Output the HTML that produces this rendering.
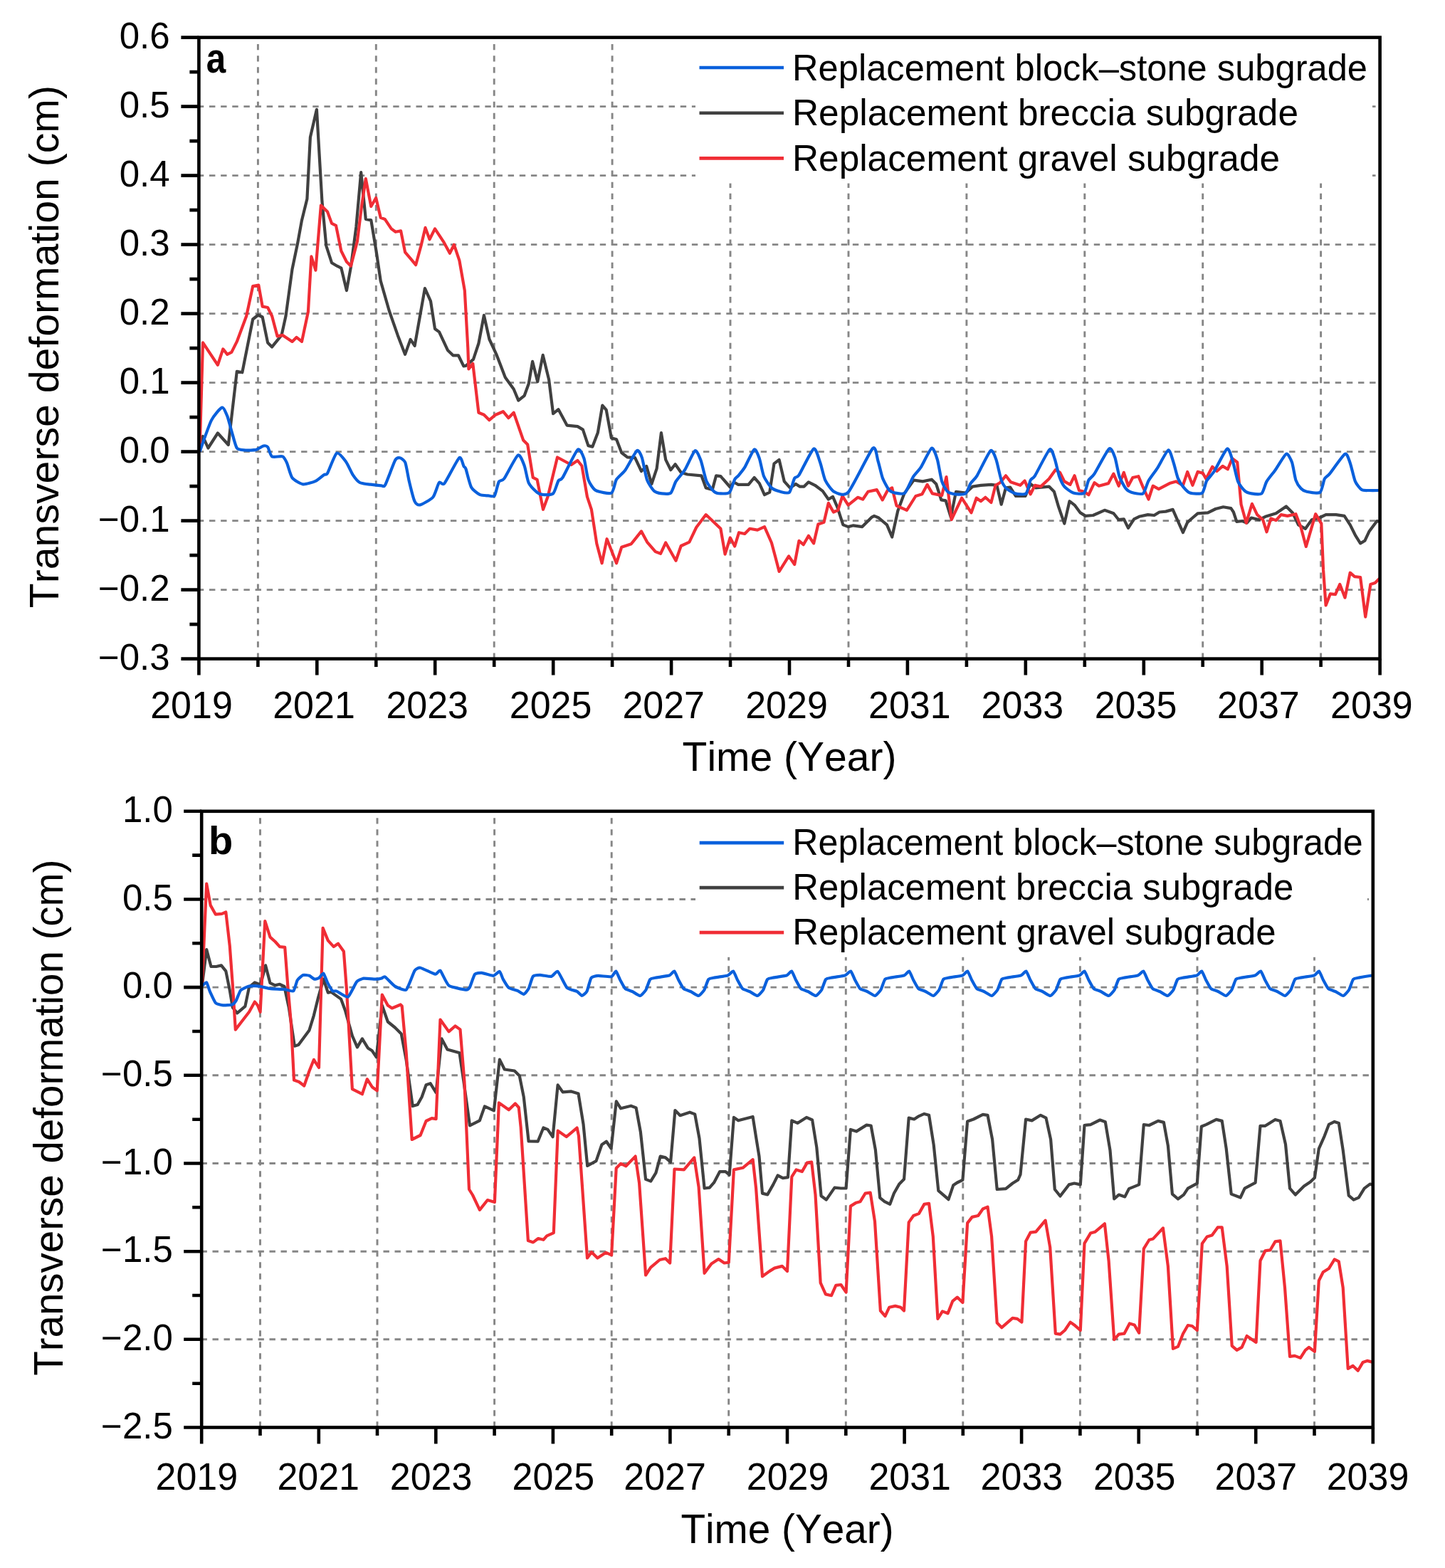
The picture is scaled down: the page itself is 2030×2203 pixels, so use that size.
<!DOCTYPE html>
<html><head><meta charset="utf-8"><style>
html,body{margin:0;padding:0;background:#fff;}
body{width:2030px;height:2203px;overflow:hidden;}
svg{display:block;font-family:"Liberation Sans", Arial, sans-serif;font-kerning:none;}
</style></head><body>
<svg width="2030" height="2203" viewBox="0 0 2030 2203">
<rect width="2030" height="2203" fill="#fff"/>
<path d="M279.4,149.6H1938.6M279.4,246.6H1938.6M279.4,343.6H1938.6M279.4,440.6H1938.6M279.4,537.6H1938.6M279.4,634.6H1938.6M279.4,731.6H1938.6M279.4,828.6H1938.6" stroke="#868686" stroke-width="2.9" stroke-dasharray="8.4 7.74" stroke-dashoffset="1.54" fill="none"/>
<path d="M362.4,52.6V925.6M528.3,52.6V925.6M694.2,52.6V925.6M860.1,52.6V925.6M1026.0,52.6V925.6M1192.0,52.6V925.6M1357.9,52.6V925.6M1523.8,52.6V925.6M1689.7,52.6V925.6M1855.6,52.6V925.6" stroke="#868686" stroke-width="2.9" stroke-dasharray="8.3 7.84" stroke-dashoffset="6.74" fill="none"/>
<rect x="977" y="54.6" width="951" height="203" fill="#fff"/>
<path d="M280.5,634.6 285.0,613.0 292.4,629.5 305.9,608.5 320.8,625.0 332.8,521.8 340.3,523.3 355.2,448.5 362.7,442.5 368.7,445.5 376.1,481.4 382.1,487.4 395.6,470.9 401.5,444.0 410.5,378.2 418.0,342.3 424.0,309.4 431.4,279.5 435.9,192.7 444.9,153.8 452.4,282.5 458.3,345.3 466.0,369.2 473.5,373.7 479.4,376.7 486.9,408.1 492.9,375.2 500.4,318.4 507.2,242.1 513.8,307.9 521.3,309.4 528.8,354.3 534.7,394.6 546.7,436.5 558.7,470.9 569.1,497.9 576.6,476.9 582.6,485.9 596.9,405.1 605.0,423.1 611.0,462.0 617.0,466.4 628.9,491.9 636.4,499.3 643.9,499.3 651.3,514.3 654.5,513.9 665.0,504.9 672.4,482.5 679.9,443.0 687.4,476.5 697.8,498.9 709.8,530.3 721.7,546.8 728.3,562.6 736.7,555.8 742.7,539.3 748.1,507.9 755.2,536.3 762.7,498.9 771.1,533.3 777.1,581.2 784.5,575.2 796.5,597.6 811.4,599.1 818.9,603.6 826.4,626.1 832.4,627.6 839.8,608.1 846.3,569.6 851.7,575.9 858.9,615.4 866.0,617.2 873.2,636.0 881.3,642.3 892.1,643.2 901.0,662.0 908.2,654.9 915.4,680.0 922.6,658.4 928.9,608.2 935.2,645.9 942.3,660.2 948.6,652.2 956.7,663.8 965.7,666.5 985.4,668.3 991.7,685.4 1000.7,688.1 1006.1,668.3 1012.4,669.2 1025.8,684.5 1031.0,677.5 1037.2,680.9 1051.5,680.9 1059.6,671.0 1066.8,679.1 1074.0,695.2 1081.2,691.7 1087.5,651.3 1094.6,645.9 1101.8,676.4 1109.9,685.4 1118.0,680.0 1123.4,683.6 1129.6,683.6 1135.9,677.3 1144.9,681.8 1155.7,689.9 1163.8,701.5 1170.0,697.9 1176.3,712.3 1184.4,737.4 1191.6,740.1 1198.8,738.3 1211.3,740.1 1224.8,726.6 1228.1,724.9 1234.4,727.5 1246.0,737.4 1253.2,754.5 1261.3,717.7 1270.3,693.4 1283.7,674.6 1296.3,676.4 1308.9,673.7 1315.2,680.0 1322.3,702.4 1328.6,703.3 1335.8,726.6 1343.0,690.8 1356.4,692.6 1366.3,683.6 1378.0,681.8 1392.4,680.9 1400.4,681.8 1406.7,708.7 1413.0,685.4 1419.0,684.5 1427.1,697.0 1440.5,697.0 1447.7,680.0 1454.9,685.4 1473.7,683.6 1480.9,690.8 1487.2,712.3 1495.3,735.6 1502.5,704.2 1509.6,709.6 1517.7,720.4 1524.9,724.9 1535.7,724.0 1551.8,716.8 1564.4,721.3 1571.6,730.2 1578.8,729.3 1585.0,741.9 1593.1,729.3 1600.3,725.8 1612.6,723.1 1621.5,724.0 1628.7,719.5 1637.7,718.6 1647.6,715.9 1653.9,730.2 1661.9,748.2 1668.2,733.8 1675.4,727.5 1682.6,721.3 1696.9,720.4 1707.7,715.0 1718.5,712.3 1729.3,714.1 1732.9,719.5 1737.3,732.9 1745.4,732.0 1751.7,734.7 1758.0,727.5 1768.8,730.2 1777.7,725.8 1792.6,721.3 1806.9,711.4 1815.9,720.4 1824.0,737.4 1833.9,742.8 1842.8,730.2 1853.6,727.5 1862.6,723.1 1876.9,723.1 1888.6,724.9 1896.7,737.4 1903.9,751.8 1911.1,763.4 1917.3,759.8 1923.6,746.4 1934.4,732.0 1938.0,732.9" stroke="#404040" stroke-width="4.2" fill="none" stroke-linejoin="round"/>
<path d="M280.5,634.6 285.0,481.4 305.9,512.8 313.3,490.4 319.3,497.9 325.3,494.9 332.8,479.9 346.2,444.0 355.2,402.1 363.3,400.6 368.7,430.6 376.1,432.0 382.1,444.0 389.6,472.4 397.1,470.9 410.5,479.9 416.5,473.9 424.0,479.9 432.9,438.0 437.4,360.3 443.4,379.7 450.9,288.5 460.0,297.4 466.0,313.9 472.0,316.9 479.4,352.8 486.9,367.7 492.9,373.7 501.9,339.3 507.8,291.4 513.8,251.1 521.3,290.0 528.2,278.0 534.7,305.8 540.7,307.9 549.7,321.4 555.7,325.8 563.1,324.4 569.1,354.3 576.6,363.2 584.1,372.2 591.5,345.3 597.5,319.9 603.5,336.3 611.0,321.4 622.9,339.3 631.9,355.8 637.9,343.8 645.4,366.2 652.8,408.1 657.3,488.9 658.4,518.4 664.3,510.9 672.4,579.7 679.9,582.7 687.4,590.2 696.3,582.7 706.8,578.2 714.3,587.2 721.7,579.7 735.2,618.6 741.2,624.6 748.7,670.9 754.6,673.9 763.0,715.8 769.6,697.8 783.0,642.5 802.5,653.0 811.4,647.0 817.4,654.5 824.9,697.8 830.9,715.8 838.3,763.7 845.6,791.3 852.6,757.2 866.0,791.3 873.2,768.8 886.7,764.3 901.0,746.4 909.1,761.6 920.8,775.1 928.0,777.8 935.2,762.5 949.5,787.7 956.7,767.0 968.4,761.6 978.2,741.0 991.7,723.1 1012.4,742.8 1018.6,778.7 1025.8,755.4 1032.2,767.5 1038.1,748.2 1046.2,750.0 1053.3,742.8 1064.1,744.6 1074.0,740.1 1083.9,762.5 1089.2,782.3 1094.6,802.9 1108.1,781.4 1116.2,793.0 1122.5,759.8 1128.7,765.2 1135.9,752.7 1143.1,763.4 1149.4,736.5 1157.5,733.8 1163.8,706.9 1170.9,719.5 1177.2,716.8 1183.5,697.0 1191.6,709.6 1205.0,698.8 1212.2,701.5 1219.4,690.8 1231.7,688.1 1239.7,702.4 1246.9,689.0 1253.2,685.4 1259.5,710.5 1273.9,716.8 1286.4,697.0 1295.4,694.3 1302.6,680.9 1309.8,693.4 1323.2,696.1 1329.5,670.1 1336.7,730.2 1351.1,699.7 1364.5,720.4 1371.7,699.7 1378.0,704.2 1384.3,698.8 1392.4,706.0 1398.6,681.8 1404.9,678.2 1413.0,668.3 1419.9,677.3 1433.3,681.8 1439.6,675.5 1447.7,694.3 1454.0,681.8 1462.1,683.6 1473.7,672.8 1482.7,660.2 1489.0,663.8 1495.3,676.4 1503.4,680.9 1509.6,668.3 1515.9,689.0 1523.1,690.8 1529.4,695.2 1537.5,678.2 1543.8,682.7 1557.2,679.1 1564.4,665.6 1571.6,682.7 1578.8,663.8 1585.0,682.7 1591.3,671.0 1599.4,669.2 1605.4,683.6 1613.5,701.5 1619.7,682.7 1627.8,687.2 1643.1,679.1 1652.1,676.4 1661.9,681.8 1668.2,662.9 1675.4,681.8 1682.6,662.9 1689.8,664.7 1694.3,672.8 1703.2,655.8 1709.5,662.0 1717.6,654.9 1724.8,659.3 1731.1,644.1 1738.2,649.5 1743.6,708.7 1750.8,734.7 1758.9,707.8 1766.1,723.1 1774.1,730.2 1779.5,747.3 1785.4,728.4 1792.6,731.1 1799.7,723.1 1808.7,724.9 1820.4,722.2 1827.6,741.0 1834.8,767.9 1841.9,743.7 1848.2,722.2 1856.3,735.6 1859.0,800.2 1862.6,850.5 1868.9,834.3 1876.0,835.2 1882.3,820.9 1889.5,839.7 1896.7,804.7 1903.0,810.1 1911.1,811.0 1918.2,866.6 1925.4,820.9 1931.7,819.1 1938.0,812.8" stroke="#f02d35" stroke-width="4.2" fill="none" stroke-linejoin="round"/>
<path d="M280.5,634.6C282.3,629.8 293.5,597.3 296.9,590.6C300.3,583.9 309.5,573.2 311.9,572.6C314.3,572.0 317.8,581.0 319.3,584.6C320.8,588.2 323.8,600.6 325.3,605.5C326.8,610.4 330.7,626.6 332.8,629.5C334.9,632.4 341.8,632.2 344.7,632.5C347.6,632.8 356.9,632.5 359.7,631.9C362.5,631.2 368.3,626.9 370.1,626.5C371.9,626.1 374.8,626.4 376.1,628.0C377.4,629.6 379.8,639.9 382.1,641.4C384.4,642.9 394.8,640.4 397.1,641.4C399.4,642.4 401.5,647.2 403.0,650.4C404.5,653.6 408.1,668.1 410.5,671.3C412.9,674.5 421.9,679.8 425.5,680.3C429.1,680.8 440.2,677.3 443.4,675.8C446.6,674.3 453.6,668.1 455.4,666.9C457.2,665.7 458.1,668.3 460.0,665.0C461.9,661.7 470.2,638.6 473.0,636.8C475.8,635.0 483.5,645.4 486.0,648.7C488.5,652.0 493.6,663.9 495.7,667.1C497.8,670.3 502.8,676.5 505.5,678.0C508.2,679.5 517.3,680.2 520.6,680.7C523.9,681.2 533.6,682.2 535.8,682.3C538.0,682.4 539.1,685.1 541.2,681.2C543.3,677.3 553.0,650.7 555.2,646.6C557.4,642.5 560.2,643.0 561.7,643.3C563.2,643.6 567.9,646.3 569.3,649.8C570.7,653.3 573.3,669.9 574.7,675.8C576.1,681.7 580.7,700.3 582.3,703.9C583.9,707.5 587.1,710.0 589.9,709.4C592.7,708.8 605.4,701.9 608.3,698.5C611.2,695.1 615.1,680.1 616.9,678.0C618.7,675.9 621.4,682.8 624.5,679.0C627.6,675.2 642.2,645.9 645.1,643.3C648.0,640.7 650.6,653.5 651.6,655.2C652.6,656.9 653.4,655.8 654.5,659.0C655.6,662.2 659.9,680.5 662.0,684.4C664.1,688.3 671.3,693.6 673.9,694.9C676.5,696.2 683.6,696.2 685.9,696.4C688.2,696.6 693.2,698.5 694.8,696.4C696.4,694.3 699.3,679.5 700.8,676.9C702.3,674.3 705.4,676.5 708.3,672.4C711.2,668.3 724.6,641.4 727.7,639.5C730.8,637.6 735.1,650.3 736.7,654.5C738.3,658.7 740.8,674.3 742.7,678.4C744.6,682.5 752.5,690.1 754.6,691.9C756.7,693.7 759.7,694.7 762.1,694.9C764.5,695.1 774.7,695.5 777.1,693.4C779.5,691.3 783.0,677.8 784.5,675.4C786.0,673.0 787.6,675.6 790.5,670.9C793.4,666.2 808.2,634.9 811.4,632.0C814.6,629.1 818.8,639.5 820.4,644.0C822.0,648.5 824.6,669.0 826.4,673.9C828.2,678.8 833.3,686.9 836.8,688.9C840.3,690.9 855.7,694.2 858.9,692.6C862.1,691.0 863.9,677.2 866.0,673.7C868.1,670.2 875.5,664.6 878.6,660.2C881.7,655.8 892.3,635.1 894.8,633.3C897.3,631.5 900.4,638.7 901.9,643.2C903.4,647.7 907.2,669.5 909.1,674.6C911.0,679.7 916.8,687.9 919.0,689.9C921.2,691.9 927.3,693.1 929.8,693.4C932.3,693.7 940.2,694.4 942.3,692.6C944.4,690.8 947.4,679.9 949.5,676.4C951.6,672.9 959.2,664.9 962.1,660.2C965.0,655.5 974.0,634.8 976.4,633.3C978.8,631.8 982.7,642.1 984.5,646.8C986.3,651.5 990.6,671.6 992.6,676.4C994.6,681.2 1001.3,689.0 1003.4,690.8C1005.5,692.6 1010.1,693.3 1012.4,693.4C1014.7,693.5 1022.8,693.8 1024.9,691.7C1027.0,689.6 1030.8,676.2 1032.1,673.7C1033.4,671.2 1035.7,670.1 1037.2,668.3C1038.7,666.5 1043.8,660.7 1046.2,656.7C1048.6,652.7 1057.4,632.9 1059.6,631.5C1061.8,630.1 1065.3,640.0 1066.8,644.1C1068.3,648.2 1071.2,664.7 1073.1,669.2C1075.0,673.7 1081.4,683.1 1083.9,685.4C1086.4,687.7 1093.7,690.1 1096.4,690.8C1099.1,691.5 1106.9,693.7 1109.0,691.7C1111.1,689.7 1114.7,674.5 1116.2,671.9C1117.7,669.3 1119.6,671.9 1122.5,667.4C1125.4,662.9 1139.9,632.5 1143.1,630.6C1146.3,628.7 1150.3,644.7 1152.1,649.5C1153.9,654.3 1157.2,670.1 1159.3,674.6C1161.4,679.1 1168.3,688.9 1171.8,690.8C1175.3,692.7 1185.7,698.3 1191.6,691.7C1197.5,685.1 1221.5,634.8 1226.0,630.0C1230.5,625.2 1232.0,643.3 1233.5,647.7C1235.0,652.1 1238.1,666.6 1239.7,671.0C1241.3,675.4 1246.8,685.8 1248.7,688.1C1250.7,690.4 1255.3,692.1 1257.7,692.6C1260.1,693.1 1268.5,695.0 1271.2,692.6C1273.9,690.2 1280.4,674.0 1282.8,670.1C1285.2,666.2 1290.8,661.1 1293.6,656.7C1296.4,652.3 1306.4,630.9 1308.9,629.7C1311.4,628.5 1315.4,640.8 1316.9,645.9C1318.4,651.0 1321.6,671.5 1323.2,676.4C1324.8,681.3 1329.3,688.9 1331.3,690.8C1333.3,692.7 1339.4,694.0 1342.1,694.3C1344.8,694.6 1354.1,695.0 1356.4,693.4C1358.7,691.8 1361.8,681.8 1363.6,679.1C1365.4,676.4 1369.6,673.3 1372.6,668.3C1375.6,663.3 1388.6,635.7 1391.5,633.3C1394.4,630.9 1397.9,641.4 1399.5,645.9C1401.1,650.4 1405.1,670.2 1406.7,674.6C1408.3,679.0 1411.8,684.3 1413.9,686.3C1416.0,688.3 1423.2,692.6 1426.2,693.4C1429.2,694.2 1439.1,695.4 1441.4,693.4C1443.7,691.4 1446.3,677.3 1447.7,674.6C1449.1,671.9 1451.1,673.0 1454.0,668.3C1456.9,663.6 1471.6,634.0 1474.6,631.5C1477.6,629.0 1480.3,640.9 1481.8,645.0C1483.3,649.1 1486.6,665.0 1488.1,669.2C1489.6,673.4 1493.2,681.1 1495.3,683.6C1497.4,686.1 1504.8,691.6 1507.8,692.6C1510.8,693.6 1520.8,694.6 1523.1,692.6C1525.4,690.6 1527.8,677.5 1529.4,674.6C1531.0,671.7 1534.4,670.4 1537.5,665.6C1540.6,660.8 1555.0,633.1 1558.1,630.6C1561.2,628.1 1564.6,638.1 1566.2,642.3C1567.8,646.5 1570.8,664.4 1572.5,669.2C1574.2,674.0 1579.7,683.9 1581.5,686.3C1583.3,688.7 1586.9,690.9 1589.5,691.7C1592.1,692.5 1603.1,695.2 1605.7,693.4C1608.3,691.6 1611.3,679.4 1613.5,675.5C1615.7,671.6 1623.0,662.3 1626.0,657.6C1629.0,652.9 1638.9,633.3 1641.3,632.4C1643.7,631.5 1647.0,645.2 1648.5,649.5C1650.0,653.8 1653.3,668.2 1654.8,671.9C1656.3,675.6 1660.1,681.4 1661.9,683.6C1663.7,685.8 1668.9,691.6 1671.8,692.6C1674.7,693.6 1686.4,694.5 1688.9,692.6C1691.4,690.7 1693.4,678.8 1695.2,675.5C1697.0,672.2 1702.8,666.9 1705.9,662.0C1709.0,657.1 1721.1,632.1 1723.9,630.6C1726.7,629.1 1730.4,643.6 1732.0,648.6C1733.6,653.6 1737.3,671.9 1739.1,676.4C1740.9,680.9 1747.0,688.1 1749.0,689.9C1751.0,691.7 1755.5,693.0 1758.0,693.4C1760.5,693.8 1770.1,695.2 1772.4,693.4C1774.7,691.6 1777.4,680.0 1779.5,676.4C1781.6,672.8 1788.7,664.4 1791.7,660.2C1794.7,656.0 1804.4,639.0 1806.9,637.8C1809.4,636.6 1813.5,645.5 1815.0,649.5C1816.5,653.5 1819.0,670.6 1820.4,674.6C1821.8,678.6 1825.9,684.5 1827.6,686.3C1829.3,688.1 1832.8,690.2 1835.7,690.8C1838.6,691.4 1851.8,693.7 1854.5,691.7C1857.2,689.8 1859.3,675.6 1860.8,672.8C1862.3,670.0 1864.9,669.4 1868.0,665.6C1871.1,661.8 1886.4,639.4 1889.5,637.8C1892.6,636.2 1895.1,646.2 1896.7,650.4C1898.3,654.6 1902.1,672.3 1903.9,676.4C1905.7,680.5 1910.8,686.7 1912.9,688.1C1915.0,689.5 1920.9,688.9 1923.6,689.0C1926.3,689.1 1936.4,689.0 1938.0,689.0" stroke="#0a60dc" stroke-width="4.2" fill="none" stroke-linejoin="round"/>
<line x1="982.5" y1="95.0" x2="1101" y2="95.0" stroke="#0a60dc" stroke-width="4.6"/>
<text x="1113" y="112.6" font-size="52" textLength="808" lengthAdjust="spacingAndGlyphs">Replacement block–stone subgrade</text>
<line x1="982.5" y1="158.7" x2="1101" y2="158.7" stroke="#404040" stroke-width="4.6"/>
<text x="1113" y="176.3" font-size="52" textLength="711" lengthAdjust="spacingAndGlyphs">Replacement breccia subgrade</text>
<line x1="982.5" y1="222.4" x2="1101" y2="222.4" stroke="#f02d35" stroke-width="4.6"/>
<text x="1113" y="240.0" font-size="52" textLength="685" lengthAdjust="spacingAndGlyphs">Replacement gravel subgrade</text>
<rect x="279.4" y="52.6" width="1659.2" height="873.0" fill="none" stroke="#000" stroke-width="4.6"/>
<path d="M254.4,52.6H279.4M266.4,101.1H279.4M254.4,149.6H279.4M266.4,198.1H279.4M254.4,246.6H279.4M266.4,295.1H279.4M254.4,343.6H279.4M266.4,392.1H279.4M254.4,440.6H279.4M266.4,489.1H279.4M254.4,537.6H279.4M266.4,586.1H279.4M254.4,634.6H279.4M266.4,683.1H279.4M254.4,731.6H279.4M266.4,780.1H279.4M254.4,828.6H279.4M266.4,877.1H279.4M254.4,925.6H279.4M279.4,925.6V948.6M362.4,925.6V937.1M445.3,925.6V948.6M528.3,925.6V937.1M611.2,925.6V948.6M694.2,925.6V937.1M777.2,925.6V948.6M860.1,925.6V937.1M943.1,925.6V948.6M1026.0,925.6V937.1M1109.0,925.6V948.6M1192.0,925.6V937.1M1274.9,925.6V948.6M1357.9,925.6V937.1M1440.8,925.6V948.6M1523.8,925.6V937.1M1606.8,925.6V948.6M1689.7,925.6V937.1M1772.7,925.6V948.6M1855.6,925.6V937.1M1938.6,925.6V948.6" stroke="#000" stroke-width="4.6" fill="none"/>
<text x="238.6" y="67.6" font-size="51" text-anchor="end">0.6</text>
<text x="238.6" y="164.6" font-size="51" text-anchor="end">0.5</text>
<text x="238.6" y="261.6" font-size="51" text-anchor="end">0.4</text>
<text x="238.6" y="358.6" font-size="51" text-anchor="end">0.3</text>
<text x="238.6" y="455.6" font-size="51" text-anchor="end">0.2</text>
<text x="238.6" y="552.6" font-size="51" text-anchor="end">0.1</text>
<text x="238.6" y="649.6" font-size="51" text-anchor="end">0.0</text>
<text x="238.6" y="746.6" font-size="51" text-anchor="end">−0.1</text>
<text x="238.6" y="843.6" font-size="51" text-anchor="end">−0.2</text>
<text x="238.6" y="940.6" font-size="51" text-anchor="end">−0.3</text>
<text x="269.0" y="1009" font-size="54" text-anchor="middle" textLength="115.6" lengthAdjust="spacingAndGlyphs">2019</text>
<text x="441.0" y="1009" font-size="54" text-anchor="middle" textLength="115.6" lengthAdjust="spacingAndGlyphs">2021</text>
<text x="600.2" y="1009" font-size="54" text-anchor="middle" textLength="115.6" lengthAdjust="spacingAndGlyphs">2023</text>
<text x="773.6" y="1009" font-size="54" text-anchor="middle" textLength="115.6" lengthAdjust="spacingAndGlyphs">2025</text>
<text x="932.2" y="1009" font-size="54" text-anchor="middle" textLength="115.6" lengthAdjust="spacingAndGlyphs">2027</text>
<text x="1105.0" y="1009" font-size="54" text-anchor="middle" textLength="115.6" lengthAdjust="spacingAndGlyphs">2029</text>
<text x="1277.8" y="1009" font-size="54" text-anchor="middle" textLength="115.6" lengthAdjust="spacingAndGlyphs">2031</text>
<text x="1436.4" y="1009" font-size="54" text-anchor="middle" textLength="115.6" lengthAdjust="spacingAndGlyphs">2033</text>
<text x="1595.5" y="1009" font-size="54" text-anchor="middle" textLength="115.6" lengthAdjust="spacingAndGlyphs">2035</text>
<text x="1767.9" y="1009" font-size="54" text-anchor="middle" textLength="115.6" lengthAdjust="spacingAndGlyphs">2037</text>
<text x="1926.9" y="1009" font-size="54" text-anchor="middle" textLength="115.6" lengthAdjust="spacingAndGlyphs">2039</text>
<text transform="translate(289.8,102.2) scale(0.83,1)" font-size="59.5" font-weight="bold">a</text>
<text x="1109.0" y="1083" font-size="57" text-anchor="middle">Time (Year)</text>
<text transform="translate(82,487.1) rotate(-90)" x="0" y="0" font-size="57.2" text-anchor="middle">Transverse deformation (cm)</text>
<path d="M283.2,1263.5H1928.8M283.2,1387.1H1928.8M283.2,1510.8H1928.8M283.2,1634.5H1928.8M283.2,1758.2H1928.8M283.2,1881.8H1928.8" stroke="#868686" stroke-width="2.9" stroke-dasharray="8.4 7.6" stroke-dashoffset="0.7" fill="none"/>
<path d="M365.5,1139.8V2005.5M530.0,1139.8V2005.5M694.6,1139.8V2005.5M859.2,1139.8V2005.5M1023.7,1139.8V2005.5M1188.3,1139.8V2005.5M1352.8,1139.8V2005.5M1517.4,1139.8V2005.5M1682.0,1139.8V2005.5M1846.5,1139.8V2005.5" stroke="#868686" stroke-width="2.9" stroke-dasharray="8.3 7.7" stroke-dashoffset="6.5" fill="none"/>
<rect x="977" y="1141.8" width="944" height="203" fill="#fff"/>
<path d="M283.8,1385.2 290.2,1334.1 296.5,1358.0 303.7,1358.0 310.9,1356.4 317.3,1364.4 322.8,1391.5 326.8,1415.5 333.2,1423.4 344.4,1413.9 350.0,1386.8 357.9,1380.4 361.9,1382.0 365.9,1383.6 373.1,1356.4 379.5,1381.2 386.6,1384.4 393.0,1382.8 399.4,1386.0 405.8,1415.5 413.8,1469.7 419.3,1468.1 434.5,1447.4 440.9,1426.6 447.2,1401.1 454.4,1375.6 460.8,1394.7 465.0,1393.6 479.0,1403.6 484.9,1419.5 494.9,1455.4 501.9,1471.4 508.9,1459.4 516.8,1472.4 522.8,1476.3 528.8,1485.3 536.8,1412.5 544.8,1435.5 554.7,1443.5 563.7,1452.4 570.7,1489.3 579.7,1554.1 586.6,1552.1 592.6,1541.2 598.6,1524.2 604.6,1522.2 612.6,1535.2 620.5,1459.4 628.5,1474.4 638.5,1477.3 645.5,1479.3 651.4,1519.2 660.0,1581.3 673.9,1574.3 680.9,1554.4 693.9,1560.3 701.9,1488.6 708.8,1502.5 722.8,1504.5 729.8,1511.5 735.8,1541.4 742.6,1603.5 755.6,1603.7 763.4,1584.5 769.4,1586.9 776.6,1597.2 783.6,1524.4 790.6,1534.4 802.6,1533.4 812.5,1536.4 819.5,1579.3 825.2,1638.0 837.5,1631.1 845.4,1608.2 851.9,1603.7 858.6,1613.5 865.8,1547.4 872.1,1557.3 886.4,1553.7 893.6,1556.4 899.9,1590.5 907.1,1656.9 914.2,1659.6 921.4,1647.9 927.7,1624.6 934.9,1626.4 942.1,1632.7 948.4,1560.0 955.5,1567.2 969.0,1562.7 976.2,1565.4 982.5,1599.5 989.6,1669.5 996.8,1668.6 1003.1,1661.4 1011.2,1646.1 1019.3,1646.1 1024.7,1650.6 1030.9,1569.9 1037.2,1574.3 1057.6,1569.0 1062.1,1597.7 1066.5,1624.6 1071.0,1676.6 1078.2,1678.4 1086.3,1664.1 1092.6,1651.5 1099.8,1655.1 1106.9,1654.2 1112.3,1574.3 1120.4,1577.9 1133.0,1569.9 1141.1,1573.5 1147.3,1612.0 1153.6,1680.2 1160.8,1685.6 1172.5,1668.6 1181.4,1669.5 1188.6,1669.5 1194.9,1586.9 1203.0,1589.6 1217.4,1580.6 1223.6,1581.5 1229.9,1615.6 1236.2,1682.9 1242.6,1688.1 1250.2,1691.9 1255.8,1676.7 1263.4,1663.4 1270.0,1656.8 1276.7,1570.6 1284.2,1572.5 1289.9,1568.7 1298.4,1564.9 1305.1,1566.8 1311.7,1608.5 1318.3,1672.9 1325.0,1678.6 1332.5,1685.2 1339.2,1665.3 1344.8,1661.5 1352.4,1657.8 1359.1,1575.4 1367.6,1572.5 1380.8,1565.9 1387.5,1566.8 1394.1,1600.9 1400.7,1671.0 1413.0,1670.1 1422.5,1662.5 1430.1,1657.8 1433.5,1650.2 1441.1,1572.5 1449.6,1574.4 1461.9,1566.8 1469.5,1570.6 1476.1,1600.9 1481.8,1671.0 1489.4,1680.5 1501.7,1664.4 1509.3,1662.5 1517.8,1664.4 1523.5,1581.0 1532.0,1580.1 1545.3,1573.5 1552.8,1576.3 1559.5,1616.1 1565.2,1684.3 1571.8,1678.6 1580.3,1681.4 1586.0,1670.1 1600.2,1664.4 1606.8,1580.1 1614.4,1581.0 1627.0,1574.9 1634.9,1576.9 1640.9,1609.8 1646.9,1677.6 1654.9,1684.5 1662.9,1678.6 1668.8,1669.6 1681.8,1662.6 1687.8,1582.8 1694.8,1579.9 1708.7,1572.9 1716.7,1574.9 1722.7,1613.7 1729.7,1677.6 1742.6,1682.5 1748.6,1669.6 1763.6,1661.6 1770.5,1581.8 1777.5,1581.8 1791.5,1572.9 1798.5,1574.9 1806.0,1607.8 1812.0,1669.6 1819.9,1678.6 1831.9,1666.6 1840.9,1660.6 1846.9,1654.7 1852.8,1613.8 1860.8,1595.8 1866.8,1579.9 1874.8,1575.9 1880.8,1577.9 1886.7,1615.8 1894.7,1679.6 1901.7,1685.6 1908.7,1682.6 1916.7,1669.6 1924.6,1663.6 1928.8,1664.6" stroke="#404040" stroke-width="4.2" fill="none" stroke-linejoin="round"/>
<path d="M283.8,1385.2 290.2,1241.5 295.7,1271.9 302.9,1284.7 311.7,1283.9 317.3,1281.5 322.8,1329.3 326.8,1383.6 330.8,1446.6 338.8,1436.2 350.0,1421.8 357.9,1407.5 361.9,1412.3 365.6,1421.8 372.3,1294.2 379.5,1316.6 386.6,1323.0 393.0,1330.1 400.2,1330.9 404.2,1383.6 409.0,1439.4 413.0,1517.6 420.1,1520.0 427.3,1525.5 434.5,1504.8 440.9,1488.8 448.0,1500.0 453.6,1303.8 460.8,1321.4 468.8,1330.1 475.0,1325.8 482.9,1336.8 486.9,1389.6 494.9,1530.2 508.9,1537.2 515.8,1516.2 522.8,1527.2 529.8,1532.2 536.8,1397.6 544.8,1412.5 550.7,1416.5 562.7,1411.5 564.7,1413.5 570.7,1479.3 578.7,1601.0 590.6,1595.0 598.6,1575.0 606.6,1571.1 612.6,1572.1 618.5,1432.5 630.5,1449.4 639.5,1441.5 646.5,1446.4 652.4,1519.2 659.0,1671.0 664.0,1679.0 673.9,1699.9 684.9,1686.0 694.9,1689.0 700.9,1549.4 714.8,1559.3 723.8,1550.4 728.8,1556.0 731.7,1583.9 741.9,1743.0 749.0,1745.4 756.2,1740.0 763.4,1741.8 768.2,1736.4 777.8,1732.2 783.7,1588.7 795.7,1597.1 802.9,1591.1 810.6,1584.5 813.0,1595.9 825.0,1767.5 831.0,1759.2 839.4,1767.5 851.3,1759.8 859.1,1763.4 865.7,1641.3 872.2,1634.8 879.4,1638.3 892.6,1624.6 898.1,1662.3 907.1,1791.5 914.2,1780.7 926.8,1770.0 934.9,1768.2 941.2,1774.5 947.5,1642.5 960.9,1643.4 975.3,1626.4 981.6,1667.7 989.6,1788.8 999.5,1775.4 1009.4,1769.1 1017.5,1774.5 1023.8,1773.6 1030.9,1643.4 1043.5,1640.8 1057.6,1629.1 1062.1,1669.5 1071.0,1793.3 1080.9,1786.1 1088.1,1781.6 1098.9,1778.9 1106.0,1786.1 1112.3,1653.3 1118.6,1643.4 1126.7,1646.1 1133.9,1633.6 1140.2,1632.7 1145.5,1678.4 1152.7,1802.3 1159.9,1818.4 1168.0,1820.2 1174.3,1805.9 1181.4,1805.0 1188.6,1815.7 1194.9,1694.6 1202.1,1690.1 1208.4,1688.3 1215.6,1676.6 1222.7,1675.7 1229.0,1716.1 1236.9,1841.5 1243.5,1849.1 1249.2,1836.8 1257.7,1834.9 1265.3,1836.8 1270.0,1841.5 1276.7,1717.4 1283.3,1708.0 1290.9,1705.1 1298.4,1691.9 1305.1,1690.9 1310.8,1737.3 1317.4,1852.9 1324.0,1842.4 1331.6,1845.3 1338.2,1828.2 1344.8,1822.6 1352.4,1830.1 1359.1,1718.4 1365.7,1709.9 1374.2,1708.0 1380.8,1698.5 1387.5,1695.6 1393.1,1737.3 1400.7,1858.5 1407.3,1865.2 1422.5,1851.9 1429.1,1852.9 1435.4,1857.6 1441.1,1743.9 1447.7,1731.6 1455.3,1730.7 1468.6,1714.6 1475.2,1752.5 1482.8,1873.7 1489.4,1874.7 1496.0,1869.0 1503.6,1857.6 1510.2,1862.3 1517.8,1869.0 1523.5,1746.8 1532.0,1732.6 1538.6,1730.7 1551.9,1719.3 1557.6,1771.4 1565.2,1882.2 1571.8,1874.7 1579.4,1873.7 1586.9,1859.5 1593.6,1861.4 1600.2,1872.8 1606.8,1754.4 1614.4,1742.0 1620.0,1740.4 1633.9,1725.4 1640.9,1779.3 1647.9,1894.9 1654.9,1891.9 1661.9,1874.0 1668.8,1862.0 1674.8,1863.0 1681.8,1869.0 1688.8,1747.3 1695.8,1737.4 1702.7,1735.4 1710.7,1724.4 1716.7,1724.4 1723.7,1779.3 1730.7,1890.9 1737.6,1896.9 1744.6,1892.9 1751.6,1877.0 1764.6,1885.9 1770.5,1771.3 1777.5,1757.3 1784.5,1756.3 1791.5,1744.4 1798.5,1743.4 1805.0,1809.2 1812.0,1905.9 1818.9,1904.9 1826.9,1907.9 1833.9,1896.9 1838.9,1893.0 1846.9,1898.9 1852.8,1799.2 1858.8,1787.3 1866.8,1782.3 1874.8,1769.3 1880.8,1772.3 1886.7,1809.2 1893.7,1922.9 1900.7,1918.9 1907.7,1925.8 1914.7,1913.9 1920.6,1911.9 1928.8,1913.9" stroke="#f02d35" stroke-width="4.2" fill="none" stroke-linejoin="round"/>
<path d="M283.8,1385.2C284.3,1384.8 289.3,1379.7 290.2,1380.4C291.1,1381.1 293.8,1390.7 294.9,1393.1C296.0,1395.5 301.4,1407.5 302.9,1409.1C304.4,1410.7 311.4,1412.1 313.3,1412.3C315.2,1412.5 324.5,1412.0 326.0,1411.5C327.5,1411.0 330.6,1407.6 331.6,1405.9C332.6,1404.2 336.6,1393.2 338.0,1391.5C339.4,1389.8 346.7,1386.5 348.4,1386.0C350.1,1385.5 356.4,1385.2 357.9,1385.2C359.4,1385.2 364.0,1385.7 365.9,1386.0C367.8,1386.3 377.5,1388.8 380.3,1389.1C383.1,1389.4 396.7,1389.7 399.4,1390.0C402.1,1390.3 410.7,1393.4 412.2,1392.3C413.7,1391.2 416.6,1379.1 417.7,1377.2C418.8,1375.3 424.3,1370.5 425.7,1370.0C427.1,1369.5 433.2,1370.3 434.5,1370.8C435.8,1371.3 440.6,1375.3 441.7,1375.6C442.8,1375.9 446.9,1374.7 448.0,1374.0C449.1,1373.3 453.4,1367.1 454.4,1367.6C455.4,1368.1 458.9,1378.3 460.0,1380.4C461.1,1382.5 466.1,1391.3 467.2,1392.3C468.3,1393.3 471.2,1391.9 473.0,1392.6C474.8,1393.3 486.6,1401.7 488.9,1400.6C491.2,1399.5 499.1,1381.8 500.9,1379.6C502.7,1377.4 508.6,1375.0 510.9,1374.7C513.2,1374.4 526.7,1375.7 528.8,1375.7C530.9,1375.7 535.0,1374.8 536.0,1374.5C537.0,1374.2 539.4,1371.6 541.0,1372.5C542.6,1373.4 552.2,1384.1 554.7,1385.6C557.2,1387.1 568.4,1392.4 570.7,1390.6C573.0,1388.8 580.9,1366.3 582.6,1363.7C584.3,1361.1 588.2,1359.3 590.6,1359.7C593.0,1360.1 609.3,1368.4 611.6,1368.7C613.9,1369.0 616.9,1362.4 618.5,1363.7C620.1,1365.0 627.5,1382.4 630.5,1384.6C633.5,1386.8 651.9,1390.4 654.4,1390.6C656.9,1390.8 659.0,1388.7 660.0,1386.9C661.0,1385.1 665.6,1370.6 667.0,1368.9C668.4,1367.2 674.7,1366.7 676.9,1366.9C679.1,1367.1 690.8,1371.1 692.9,1370.9C695.0,1370.7 700.7,1364.5 701.9,1364.9C703.1,1365.3 705.7,1374.0 706.8,1375.9C707.9,1377.8 713.1,1386.6 714.8,1387.9C716.5,1389.2 725.0,1391.1 726.8,1391.8C728.5,1392.5 734.5,1397.0 735.8,1396.8C737.1,1396.6 741.6,1391.0 742.7,1388.9C743.8,1386.8 747.4,1373.5 748.7,1371.9C750.0,1370.3 756.5,1369.9 758.7,1369.9C760.9,1369.9 772.5,1372.3 774.6,1371.9C776.7,1371.5 781.8,1363.6 783.6,1364.9C785.4,1366.2 794.4,1385.6 796.6,1387.9C798.8,1390.2 808.8,1391.9 810.5,1392.8C812.2,1393.7 816.3,1398.8 817.5,1398.8C818.7,1398.8 823.4,1394.9 824.5,1392.8C825.6,1390.7 829.2,1375.7 830.5,1373.9C831.8,1372.1 838.0,1371.0 840.4,1370.9C842.8,1370.8 856.7,1372.7 858.8,1372.2C860.9,1371.7 864.3,1364.1 865.3,1364.5C866.3,1364.9 870.2,1375.0 871.3,1377.0C872.4,1379.0 876.9,1387.7 878.3,1389.0C879.7,1390.3 886.5,1392.2 888.3,1393.0C890.0,1393.8 897.7,1399.2 899.3,1399.0C900.9,1398.8 906.1,1392.9 907.3,1391.0C908.5,1389.1 912.0,1377.5 913.3,1376.0C914.5,1374.5 920.0,1373.9 922.3,1373.4C924.5,1372.9 938.2,1371.2 940.3,1370.5C942.4,1369.8 946.2,1364.0 947.3,1364.5C948.4,1365.0 952.2,1375.0 953.3,1377.0C954.4,1379.0 958.9,1387.7 960.3,1389.0C961.7,1390.3 968.5,1392.2 970.3,1393.0C972.0,1393.8 979.7,1399.2 981.3,1399.0C982.9,1398.8 988.1,1392.9 989.3,1391.0C990.5,1389.1 994.0,1377.5 995.3,1376.0C996.5,1374.5 1002.0,1373.9 1004.3,1373.4C1006.5,1372.9 1020.1,1371.2 1022.3,1370.5C1024.5,1369.8 1028.9,1364.0 1030.1,1364.5C1031.2,1365.0 1035.0,1375.0 1036.1,1377.0C1037.2,1379.0 1041.7,1387.7 1043.1,1389.0C1044.5,1390.3 1051.3,1392.2 1053.1,1393.0C1054.8,1393.8 1062.5,1399.2 1064.1,1399.0C1065.7,1398.8 1070.9,1392.9 1072.1,1391.0C1073.3,1389.1 1076.8,1377.5 1078.1,1376.0C1079.3,1374.5 1084.8,1373.9 1087.1,1373.4C1089.3,1372.9 1103.0,1371.2 1105.1,1370.5C1107.2,1369.8 1111.0,1364.0 1112.1,1364.5C1113.2,1365.0 1117.0,1375.0 1118.1,1377.0C1119.2,1379.0 1123.7,1387.7 1125.1,1389.0C1126.5,1390.3 1133.3,1392.2 1135.1,1393.0C1136.8,1393.8 1144.5,1399.2 1146.1,1399.0C1147.7,1398.8 1152.9,1392.9 1154.1,1391.0C1155.3,1389.1 1158.8,1377.5 1160.1,1376.0C1161.3,1374.5 1166.8,1373.9 1169.1,1373.4C1171.3,1372.9 1184.9,1371.2 1187.1,1370.5C1189.3,1369.8 1194.0,1364.0 1195.2,1364.5C1196.4,1365.0 1200.1,1375.0 1201.2,1377.0C1202.3,1379.0 1206.8,1387.7 1208.2,1389.0C1209.6,1390.3 1216.5,1392.2 1218.2,1393.0C1220.0,1393.8 1227.6,1399.2 1229.2,1399.0C1230.8,1398.8 1236.0,1392.9 1237.2,1391.0C1238.4,1389.1 1242.0,1377.5 1243.2,1376.0C1244.5,1374.5 1250.0,1373.9 1252.2,1373.4C1254.5,1372.9 1268.1,1371.2 1270.2,1370.5C1272.3,1369.8 1276.1,1364.0 1277.2,1364.5C1278.3,1365.0 1282.1,1375.0 1283.2,1377.0C1284.3,1379.0 1288.8,1387.7 1290.2,1389.0C1291.6,1390.3 1298.5,1392.2 1300.2,1393.0C1302.0,1393.8 1309.6,1399.2 1311.2,1399.0C1312.8,1398.8 1318.0,1392.9 1319.2,1391.0C1320.4,1389.1 1324.0,1377.5 1325.2,1376.0C1326.5,1374.5 1332.0,1373.9 1334.2,1373.4C1336.5,1372.9 1350.1,1371.2 1352.2,1370.5C1354.3,1369.8 1358.1,1364.0 1359.2,1364.5C1360.3,1365.0 1364.1,1375.0 1365.2,1377.0C1366.3,1379.0 1370.8,1387.7 1372.2,1389.0C1373.6,1390.3 1380.5,1392.2 1382.2,1393.0C1384.0,1393.8 1391.6,1399.2 1393.2,1399.0C1394.8,1398.8 1400.0,1392.9 1401.2,1391.0C1402.4,1389.1 1406.0,1377.5 1407.2,1376.0C1408.5,1374.5 1414.0,1373.9 1416.2,1373.4C1418.5,1372.9 1432.1,1371.2 1434.2,1370.5C1436.3,1369.8 1440.4,1364.0 1441.5,1364.5C1442.6,1365.0 1446.4,1375.0 1447.5,1377.0C1448.6,1379.0 1453.1,1387.7 1454.5,1389.0C1455.9,1390.3 1462.8,1392.2 1464.5,1393.0C1466.2,1393.8 1473.9,1399.2 1475.5,1399.0C1477.1,1398.8 1482.3,1392.9 1483.5,1391.0C1484.7,1389.1 1488.2,1377.5 1489.5,1376.0C1490.8,1374.5 1496.2,1373.9 1498.5,1373.4C1500.8,1372.9 1514.4,1371.2 1516.5,1370.5C1518.6,1369.8 1522.4,1364.0 1523.5,1364.5C1524.6,1365.0 1528.4,1375.0 1529.5,1377.0C1530.6,1379.0 1535.1,1387.7 1536.5,1389.0C1537.9,1390.3 1544.8,1392.2 1546.5,1393.0C1548.2,1393.8 1555.9,1399.2 1557.5,1399.0C1559.1,1398.8 1564.3,1392.9 1565.5,1391.0C1566.7,1389.1 1570.2,1377.5 1571.5,1376.0C1572.8,1374.5 1578.2,1373.9 1580.5,1373.4C1582.8,1372.9 1596.3,1371.2 1598.5,1370.5C1600.7,1369.8 1605.1,1364.0 1606.3,1364.5C1607.5,1365.0 1611.2,1375.0 1612.3,1377.0C1613.4,1379.0 1617.9,1387.7 1619.3,1389.0C1620.7,1390.3 1627.5,1392.2 1629.3,1393.0C1631.0,1393.8 1638.7,1399.2 1640.3,1399.0C1641.9,1398.8 1647.1,1392.9 1648.3,1391.0C1649.5,1389.1 1653.0,1377.5 1654.3,1376.0C1655.5,1374.5 1661.0,1373.9 1663.3,1373.4C1665.5,1372.9 1679.2,1371.2 1681.3,1370.5C1683.4,1369.8 1687.1,1364.0 1688.2,1364.5C1689.3,1365.0 1693.1,1375.0 1694.2,1377.0C1695.3,1379.0 1699.8,1387.7 1701.2,1389.0C1702.6,1390.3 1709.5,1392.2 1711.2,1393.0C1713.0,1393.8 1720.6,1399.2 1722.2,1399.0C1723.8,1398.8 1729.0,1392.9 1730.2,1391.0C1731.4,1389.1 1735.0,1377.5 1736.2,1376.0C1737.5,1374.5 1743.0,1373.9 1745.2,1373.4C1747.5,1372.9 1761.0,1371.2 1763.2,1370.5C1765.4,1369.8 1770.0,1364.0 1771.2,1364.5C1772.4,1365.0 1776.1,1375.0 1777.2,1377.0C1778.3,1379.0 1782.8,1387.7 1784.2,1389.0C1785.6,1390.3 1792.5,1392.2 1794.2,1393.0C1796.0,1393.8 1803.6,1399.2 1805.2,1399.0C1806.8,1398.8 1812.0,1392.9 1813.2,1391.0C1814.4,1389.1 1818.0,1377.5 1819.2,1376.0C1820.5,1374.5 1826.0,1373.9 1828.2,1373.4C1830.5,1372.9 1844.1,1371.2 1846.2,1370.5C1848.3,1369.8 1851.9,1364.0 1853.0,1364.5C1854.1,1365.0 1857.9,1375.0 1859.0,1377.0C1860.1,1379.0 1864.6,1387.7 1866.0,1389.0C1867.4,1390.3 1874.2,1392.2 1876.0,1393.0C1877.8,1393.8 1885.4,1399.2 1887.0,1399.0C1888.6,1398.8 1893.8,1392.9 1895.0,1391.0C1896.2,1389.1 1899.8,1377.5 1901.0,1376.0C1902.2,1374.5 1907.8,1373.9 1910.0,1373.4C1912.2,1372.9 1926.4,1370.7 1928.0,1370.5C1929.6,1370.3 1928.7,1371.3 1928.8,1371.4" stroke="#0a60dc" stroke-width="4.2" fill="none" stroke-linejoin="round"/>
<line x1="982.7" y1="1184.1" x2="1101.2" y2="1184.1" stroke="#0a60dc" stroke-width="4.6"/>
<text x="1113.3" y="1200.8" font-size="52" textLength="801.5" lengthAdjust="spacingAndGlyphs">Replacement block–stone subgrade</text>
<line x1="982.7" y1="1247.1" x2="1101.2" y2="1247.1" stroke="#404040" stroke-width="4.6"/>
<text x="1113.3" y="1263.8" font-size="52" textLength="704" lengthAdjust="spacingAndGlyphs">Replacement breccia subgrade</text>
<line x1="982.7" y1="1310.1" x2="1101.2" y2="1310.1" stroke="#f02d35" stroke-width="4.6"/>
<text x="1113.3" y="1326.8" font-size="52" textLength="679.3" lengthAdjust="spacingAndGlyphs">Replacement gravel subgrade</text>
<rect x="283.2" y="1139.8" width="1645.6" height="865.7" fill="none" stroke="#000" stroke-width="4.6"/>
<path d="M258.2,1139.8H283.2M270.2,1201.6H283.2M258.2,1263.5H283.2M270.2,1325.3H283.2M258.2,1387.1H283.2M270.2,1449.0H283.2M258.2,1510.8H283.2M270.2,1572.7H283.2M258.2,1634.5H283.2M270.2,1696.3H283.2M258.2,1758.2H283.2M270.2,1820.0H283.2M258.2,1881.8H283.2M270.2,1943.7H283.2M258.2,2005.5H283.2M283.2,2005.5V2028.5M365.5,2005.5V2017.0M447.8,2005.5V2028.5M530.0,2005.5V2017.0M612.3,2005.5V2028.5M694.6,2005.5V2017.0M776.9,2005.5V2028.5M859.2,2005.5V2017.0M941.4,2005.5V2028.5M1023.7,2005.5V2017.0M1106.0,2005.5V2028.5M1188.3,2005.5V2017.0M1270.6,2005.5V2028.5M1352.8,2005.5V2017.0M1435.1,2005.5V2028.5M1517.4,2005.5V2017.0M1599.7,2005.5V2028.5M1682.0,2005.5V2017.0M1764.2,2005.5V2028.5M1846.5,2005.5V2017.0M1928.8,2005.5V2028.5" stroke="#000" stroke-width="4.6" fill="none"/>
<text x="242.8" y="1154.8" font-size="51" text-anchor="end">1.0</text>
<text x="242.8" y="1278.5" font-size="51" text-anchor="end">0.5</text>
<text x="242.8" y="1402.1" font-size="51" text-anchor="end">0.0</text>
<text x="242.8" y="1525.8" font-size="51" text-anchor="end">−0.5</text>
<text x="242.8" y="1649.5" font-size="51" text-anchor="end">−1.0</text>
<text x="242.8" y="1773.2" font-size="51" text-anchor="end">−1.5</text>
<text x="242.8" y="1896.8" font-size="51" text-anchor="end">−2.0</text>
<text x="242.8" y="2020.5" font-size="51" text-anchor="end">−2.5</text>
<text x="276.3" y="2092.5" font-size="54" text-anchor="middle" textLength="115.6" lengthAdjust="spacingAndGlyphs">2019</text>
<text x="447.2" y="2092.5" font-size="54" text-anchor="middle" textLength="115.6" lengthAdjust="spacingAndGlyphs">2021</text>
<text x="605.6" y="2092.5" font-size="54" text-anchor="middle" textLength="115.6" lengthAdjust="spacingAndGlyphs">2023</text>
<text x="777.3" y="2092.5" font-size="54" text-anchor="middle" textLength="115.6" lengthAdjust="spacingAndGlyphs">2025</text>
<text x="934.1" y="2092.5" font-size="54" text-anchor="middle" textLength="115.6" lengthAdjust="spacingAndGlyphs">2027</text>
<text x="1106.6" y="2092.5" font-size="54" text-anchor="middle" textLength="115.6" lengthAdjust="spacingAndGlyphs">2029</text>
<text x="1278.2" y="2092.5" font-size="54" text-anchor="middle" textLength="115.6" lengthAdjust="spacingAndGlyphs">2031</text>
<text x="1435.4" y="2092.5" font-size="54" text-anchor="middle" textLength="115.6" lengthAdjust="spacingAndGlyphs">2033</text>
<text x="1593.7" y="2092.5" font-size="54" text-anchor="middle" textLength="115.6" lengthAdjust="spacingAndGlyphs">2035</text>
<text x="1764.4" y="2092.5" font-size="54" text-anchor="middle" textLength="115.6" lengthAdjust="spacingAndGlyphs">2037</text>
<text x="1921.5" y="2092.5" font-size="54" text-anchor="middle" textLength="115.6" lengthAdjust="spacingAndGlyphs">2039</text>
<text transform="translate(293,1199.7) scale(1.0,1)" font-size="56" font-weight="bold">b</text>
<text x="1106.0" y="2168" font-size="56.7" text-anchor="middle">Time (Year)</text>
<text transform="translate(87.8,1570.2) rotate(-90)" x="0" y="0" font-size="56.5" text-anchor="middle">Transverse deformation (cm)</text>
</svg>
</body></html>
